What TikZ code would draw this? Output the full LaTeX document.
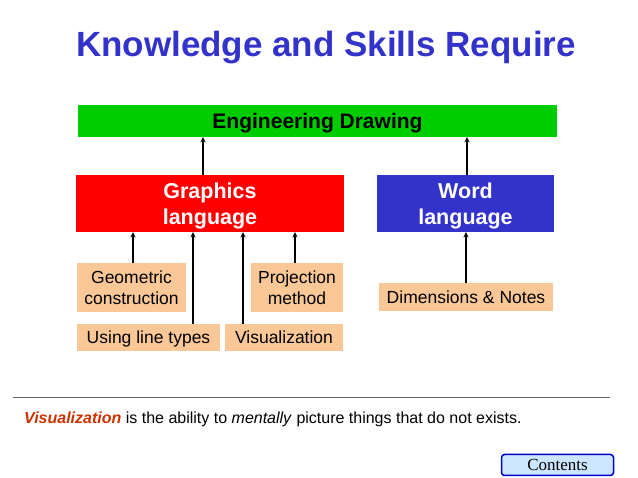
\documentclass[tikz,border=0pt]{standalone}
\usepackage{fontspec}
\setmainfont{Liberation Sans}
\newfontfamily\btnfont{Liberation Serif}
\usepackage{tikz}
\usetikzlibrary{positioning,calc}
\definecolor{titleblue}{HTML}{3333CC}
\definecolor{wordblue}{HTML}{3333CC}
\definecolor{edgreen}{HTML}{00CC00}
\definecolor{peach}{HTML}{FAC897}
\definecolor{vizred}{HTML}{CC3300}
\definecolor{btnfill}{HTML}{CCE6FF}
\newcommand{\skillbox}[5]{
	\node [fill=peach, font=\fontsize{17.5}{21}\selectfont, align=center, text depth=0pt,
		minimum width=#3pt, minimum height=#4pt, inner sep=0pt] (#1) at (#2) {#5};
}
\newcommand{\feed}[3]
{
	% arrow straight up from one box to the next
	\draw [->, >=stealth, line width=1.3pt] (#2 |- #1.north) -- (#2 |- #3.south);
}

\begin{document}
\begin{tikzpicture}[x=1pt, y=-1pt]
		\useasboundingbox (0,0) rectangle (638,478);
		\node [text=titleblue, font=\fontsize{35}{40}\selectfont\bfseries] (title) at (326,48) {Knowledge and Skills Require};
		
		\node [fill=edgreen, font=\fontsize{21}{25}\selectfont\bfseries, text depth=0pt, minimum width=479pt, minimum height=32pt, inner sep=0pt] (draw) at (317.5,121) {Engineering Drawing};
		\node [fill=red, text=white, font=\fontsize{21.5}{26}\selectfont\bfseries, align=center, text depth=0pt, minimum width=268pt, minimum height=57pt, inner sep=0pt] (graph) at (210,203.5) {Graphics\\language};
		\node [fill=wordblue, text=white, font=\fontsize{21.5}{26}\selectfont\bfseries, align=center, text depth=0pt, minimum width=177pt, minimum height=57pt, inner sep=0pt] (word) at (465.5,203.5) {Word\\language};
		
		\skillbox{geo}{131.5,287.5}{109}{49}{Geometric\\construction}
		\skillbox{proj}{297,287.5}{92}{49}{Projection\\method}
		\skillbox{lines}{148.5,337.5}{143}{27}{Using line types}
		\skillbox{vis}{284,337.5}{118}{27}{Visualization}
		\skillbox{dim}{466,297}{174}{28}{Dimensions \& Notes}
		
		\feed{graph}{203,0}{draw}
		\feed{word}{467,0}{draw}
		\feed{geo}{133,0}{graph}
		\feed{lines}{193,0}{graph}
		\feed{vis}{243,0}{graph}
		\feed{proj}{295,0}{graph}
		\feed{dim}{466,0}{word}
		
		\coordinate (rulel) at (13,397);
		\coordinate (ruler) at (610,397);
		\draw [gray!80!black, line width=0.7pt] (rulel) -- (ruler);
		\node [anchor=west, font=\fontsize{16}{19}\selectfont, inner sep=0pt] (note) at (24,419)
			{\textcolor{vizred}{\textbf{\textit{Visualization}}} is the ability to \textit{mentally} picture things that do not exists.};
		
		\node [draw=blue!80!black, line width=1.5pt, fill=btnfill, rounded corners=3pt, minimum width=112pt, minimum height=21pt, inner sep=0pt, font=\btnfont\fontsize{17}{20}\selectfont] (contents) at (557.5,465) {Contents};
\end{tikzpicture}
\end{document}
